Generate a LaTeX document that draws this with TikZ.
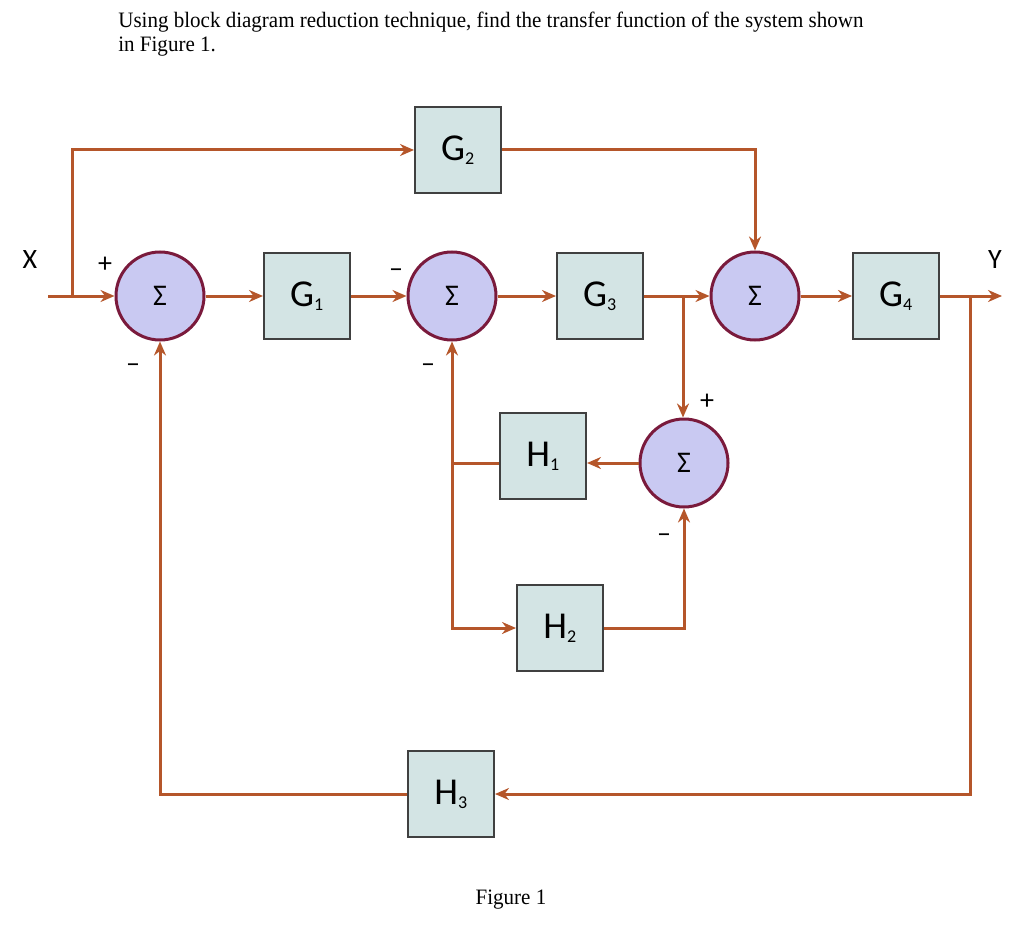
\documentclass[tikz,border=0pt]{standalone}
\usepackage{fontspec}
\setmainfont{Liberation Serif}
\newfontfamily\calfnt{Carlito}
\usetikzlibrary{arrows.meta}
\definecolor{ln}{HTML}{B5562A}
\definecolor{bx}{HTML}{D3E4E4}
\definecolor{cf}{HTML}{C9C9F2}
\definecolor{cb}{HTML}{7A1A3C}
\begin{document}
\begin{tikzpicture}[x=1pt,y=-1pt,
 blk/.style={draw=black!75,line width=2pt,fill=bx,minimum size=86pt,inner sep=0pt,font=\calfnt\fontsize{38}{40}\selectfont},
 sm/.style={circle,draw=cb,line width=3pt,fill=cf,minimum size=88pt,inner sep=0pt,font=\calfnt\fontsize{30}{32}\selectfont},
 w/.style={draw=ln,line width=3pt},
 a/.style={w,-{Stealth[length=14pt,width=12pt]}},
 sg/.style={font=\calfnt\fontsize{28}{30}\selectfont},
 tt/.style={font=\fontsize{22}{24}\selectfont,anchor=west,xscale=0.955,transform shape}]
\useasboundingbox (0,0) rectangle (1024,925);
\node[tt] (t1) at (115,22) {Using block diagram reduction technique, find the transfer function of the system shown};
\node[tt] (t2) at (115,47) {in Figure 1.};
\node[font=\fontsize{22}{24}\selectfont,xscale=0.955,transform shape] (fig) at (511,900) {Figure 1};
\node[blk] (G2) at (458,150) {G$_{\mbox{\fontsize{18}{20}\selectfont 2}}$};
\node[blk] (G1) at (307,296) {G$_{\mbox{\fontsize{18}{20}\selectfont 1}}$};
\node[blk] (G3) at (600,296) {G$_{\mbox{\fontsize{18}{20}\selectfont 3}}$};
\node[blk] (G4) at (896,296) {G$_{\mbox{\fontsize{18}{20}\selectfont 4}}$};
\node[blk] (H1) at (543,456) {H$_{\mbox{\fontsize{18}{20}\selectfont 1}}$};
\node[blk] (H2) at (560,628) {H$_{\mbox{\fontsize{18}{20}\selectfont 2}}$};
\node[blk] (H3) at (451,794) {H$_{\mbox{\fontsize{18}{20}\selectfont 3}}$};
\node[sm] (S1) at (160,296) {Σ};
\node[sm] (S2) at (452,296) {Σ};
\node[sm] (S3) at (755,296) {Σ};
\node[sm] (S4) at (684,463) {Σ};
\node[sg] (X) at (30,260) {X};
\node[sg] (Y) at (995,260) {Y};
\coordinate (in) at (48,296);
\coordinate (b1) at (72,296);
\coordinate (b2) at (683,296);
\coordinate (b3) at (452,463);
\coordinate (b4) at (970,296);
\coordinate (out) at (1002,296);
\draw[a] (in) -- (S1);
\draw[a] (b1) |- (G2);
\draw[a] (G2.east) -| (S3.north);
\draw[a] (S1) -- (G1);
\draw[a] (G1) -- (S2);
\draw[a] (S2) -- (G3);
\draw[a] (G3) -- (S3);
\draw[a] (S3) -- (G4);
\draw[a] (G4) -- (out);
\draw[a] (b2) -- (b2 |- S4.north);
\draw[a] (S4.west) -- (S4.west -| H1.east);
\draw[w] (b3 -| H1.west) -- (b3);
\draw[a] (b3) -- (S2.south);
\draw[a] (b3) |- (H2);
\draw[a] (H2.east) -| (S4.south);
\draw[a] (b4) |- (H3);
\draw[a] (H3.west) -| (S1.south);
\node[sg] (p1) at (105,265) {+};
\node[sg] (m1) at (133,368) {–};
\node[sg] (m2) at (396,273) {–};
\node[sg] (m3) at (428,368) {–};
\node[sg] (p4) at (707,402) {+};
\node[sg] (m4) at (664,538) {–};
\end{tikzpicture}
\end{document}
